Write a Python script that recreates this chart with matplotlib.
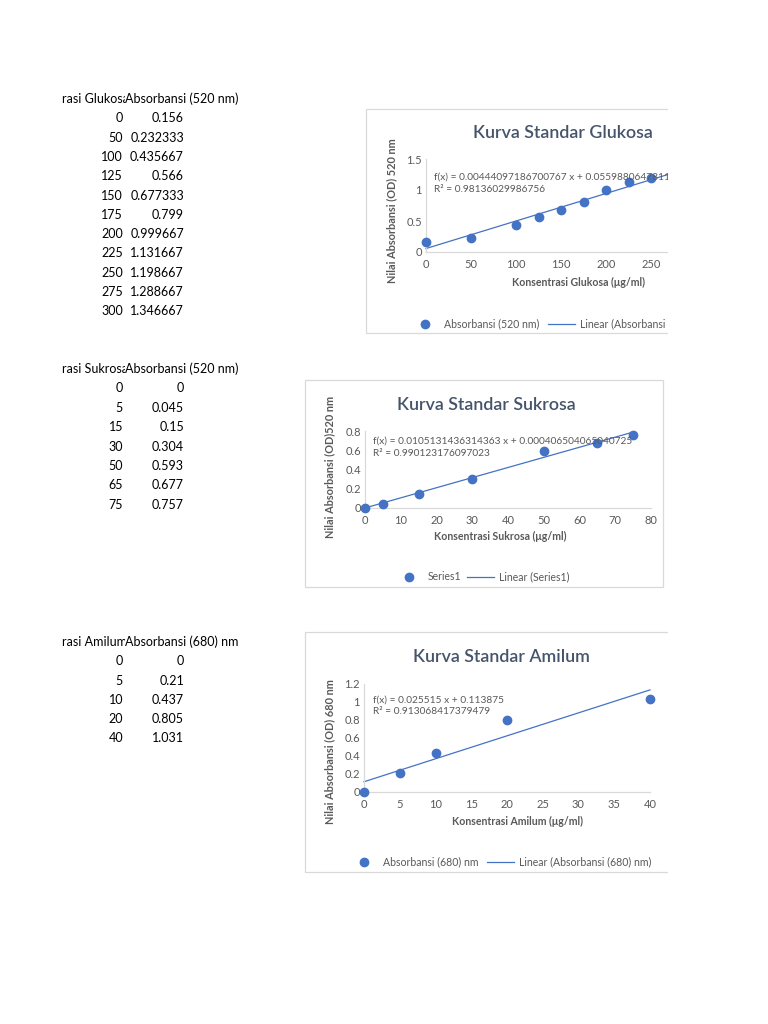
import matplotlib
matplotlib.use('Agg')
import matplotlib.pyplot as plt
from matplotlib.patches import Rectangle
from matplotlib.lines import Line2D
from matplotlib.ticker import FuncFormatter
from matplotlib.transforms import Bbox, TransformedBbox
import numpy as np

# ---------------- data ----------------
glu_conc = [0, 50, 100, 125, 150, 175, 200, 225, 250, 275, 300]
glu_abs = [0.156, 0.232333, 0.435667, 0.566, 0.677333, 0.799, 0.999667,
           1.131667, 1.198667, 1.288667, 1.346667]
glu_slope, glu_icpt = 0.00444097186700767, 0.0559880647811189
glu_eq = "f(x) = 0.00444097186700767 x + 0.0559880647811189"
glu_r2 = "R² = 0.98136029986756"

suk_conc = [0, 5, 15, 30, 50, 65, 75]
suk_abs = [0, 0.045, 0.15, 0.304, 0.593, 0.677, 0.757]
suk_slope, suk_icpt = 0.0105131436314363, 0.000406504065040725
suk_eq = "f(x) = 0.0105131436314363 x + 0.000406504065040725"
suk_r2 = "R² = 0.990123176097023"

ami_conc = [0, 5, 10, 20, 40]
ami_abs = [0, 0.21, 0.437, 0.805, 1.031]
ami_slope, ami_icpt = 0.025515, 0.113875
ami_eq = "f(x) = 0.025515 x + 0.113875"
ami_r2 = "R² = 0.913068417379479"

# ---------------- styling ----------------
W, H = 768, 1024
FONT = 'Lato'
BLUE = '#4472C4'
GRAY = '#595959'
TITLE = '#44546A'
BOX = '#D9D9D9'

plt.rcParams['font.family'] = [FONT, 'DejaVu Sans']

fig = plt.figure(figsize=(W / 100, H / 100), dpi=100)


def fx(px):
    return px / W


def fy(py):
    return 1 - py / H


def ftext(px, py, s, **kw):
    return fig.text(fx(px), fy(py), s, **kw)


# ---------------- tables ----------------
def table(y0, head_a, head_b, col_a, col_b, step=19.4):
    t = ftext(62, y0, head_a, ha='left', va='center', fontsize=9, color='black')
    t.set_clip_box(TransformedBbox(Bbox([[0, 0], [124.5 / W, 1]]), fig.transFigure))
    t.set_clip_on(True)
    ftext(125, y0, head_b, ha='left', va='center', fontsize=9, color='black')
    for i, (a, b) in enumerate(zip(col_a, col_b)):
        y = y0 + (i + 1) * step
        ftext(123, y, str(a), ha='right', va='center', fontsize=9, color='black')
        ftext(184, y, str(b), ha='right', va='center', fontsize=9, color='black')


table(99, "rasi Glukosa", "Absorbansi (520 nm)", glu_conc, glu_abs, 19.3)
table(369, "rasi Sukrosa", "Absorbansi (520 nm)", suk_conc, suk_abs, 19.4)
table(642, "rasi Amilum", "Absorbansi (680) nm", ami_conc, ami_abs, 19.3)


# ---------------- charts ----------------
def chart(box, axpix, xlim, ylim, xticks, yticks, x, y, slope, icpt, xfit,
          title, title_xy, eq, r2, eq_xy, ylab, ylab_xy, xlab, xlab_xy,
          leg_labels, leg_xy, colspace):
    bx0, by0, bx1, by1 = box
    fig.add_artist(Rectangle((fx(bx0), fy(by1)), fx(bx1 - bx0), (by1 - by0) / H,
                             transform=fig.transFigure, facecolor='white',
                             edgecolor=BOX, lw=0.9, zorder=-1))
    l, b, r, t = axpix
    ax = fig.add_axes([fx(l), fy(b), fx(r - l), (b - t) / H])
    ax.set_facecolor('none')
    ax.set_xlim(*xlim)
    ax.set_ylim(*ylim)
    ax.set_xticks(xticks)
    ax.set_yticks(yticks)
    fmt = FuncFormatter(lambda v, p: f"{v:g}")
    ax.xaxis.set_major_formatter(fmt)
    ax.yaxis.set_major_formatter(fmt)
    for s in ['top', 'right']:
        ax.spines[s].set_visible(False)
    for s in ['left', 'bottom']:
        ax.spines[s].set_color(BOX)
        ax.spines[s].set_linewidth(0.9)
    ax.tick_params(length=0, labelsize=8, labelcolor=GRAY)
    ax.tick_params(axis='x', pad=5)
    ax.tick_params(axis='y', pad=3)
    ax.plot(x, y, 'o', color=BLUE, markersize=6, clip_on=False, zorder=3)
    xf = np.array(xfit, dtype=float)
    ax.plot(xf, slope * xf + icpt, '-', color=BLUE, lw=0.9, clip_on=False, zorder=2)
    ftext(title_xy[0], title_xy[1], title, ha='center', va='center', fontsize=12.8,
          color=TITLE, fontweight='semibold')
    ftext(eq_xy[0], eq_xy[1], eq, ha='left', va='center', fontsize=7.3, color=GRAY)
    ftext(eq_xy[0], eq_xy[1] + 12, r2, ha='left', va='center', fontsize=7.3, color=GRAY)
    ftext(ylab_xy[0], ylab_xy[1], ylab, ha='center', va='center', rotation=90,
          fontsize=7.9, color=GRAY, fontweight='bold')
    ftext(xlab_xy[0], xlab_xy[1], xlab, ha='center', va='center',
          fontsize=7.6, color=GRAY, fontweight='bold')
    h1 = Line2D([], [], marker='o', ls='none', color=BLUE, markersize=6)
    h2 = Line2D([], [], ls='-', color=BLUE, lw=0.9)
    fig.legend([h1, h2], leg_labels, loc='center left',
               bbox_to_anchor=(fx(leg_xy[0]), fy(leg_xy[1])), ncol=2, frameon=False,
               fontsize=7.6, labelcolor=GRAY, handlelength=2.6, handletextpad=0.5,
               columnspacing=colspace, borderpad=0, borderaxespad=0)
    return ax


chart(box=(366, 109, 800, 333), axpix=(426, 252, 741, 159),
      xlim=(0, 350), ylim=(0, 1.5), xticks=[0, 50, 100, 150, 200, 250, 300, 350],
      yticks=[0, 0.5, 1, 1.5], x=glu_conc, y=glu_abs, slope=glu_slope, icpt=glu_icpt,
      xfit=[0, 300], title="Kurva Standar Glukosa", title_xy=(563, 133),
      eq=glu_eq, r2=glu_r2, eq_xy=(434, 177),
      ylab="Nilai Absorbansi (OD) 520 nm", ylab_xy=(392, 211),
      xlab="Konsentrasi Glukosa (μg/ml)", xlab_xy=(579, 282),
      leg_labels=["Absorbansi (520 nm)", "Linear (Absorbansi (520 nm))"],
      leg_xy=(411, 324), colspace=0.8)

chart(box=(305, 380, 663, 587), axpix=(365, 508, 651, 431),
      xlim=(0, 80), ylim=(0, 0.8), xticks=list(range(0, 81, 10)),
      yticks=[0, 0.2, 0.4, 0.6, 0.8], x=suk_conc, y=suk_abs, slope=suk_slope,
      icpt=suk_icpt, xfit=[0, 75], title="Kurva Standar Sukrosa", title_xy=(486, 405),
      eq=suk_eq, r2=suk_r2, eq_xy=(373, 441),
      ylab="Nilai Absorbansi (OD)520 nm", ylab_xy=(330, 467),
      xlab="Konsentrasi Sukrosa (μg/ml)", xlab_xy=(500, 536),
      leg_labels=["Series1", "Linear (Series1)"], leg_xy=(395, 577), colspace=0.5)

chart(box=(305, 632, 800, 872), axpix=(364, 792, 650, 684),
      xlim=(0, 40), ylim=(0, 1.2), xticks=list(range(0, 41, 5)),
      yticks=[0, 0.2, 0.4, 0.6, 0.8, 1, 1.2], x=ami_conc, y=ami_abs, slope=ami_slope,
      icpt=ami_icpt, xfit=[0, 40], title="Kurva Standar Amilum", title_xy=(501, 657),
      eq=ami_eq, r2=ami_r2, eq_xy=(373, 700),
      ylab="Nilai Absorbansi (OD) 680 nm", ylab_xy=(330, 752),
      xlab="Konsentrasi Amilum (μg/ml)", xlab_xy=(518, 821),
      leg_labels=["Absorbansi (680) nm", "Linear (Absorbansi (680) nm)"],
      leg_xy=(350, 862), colspace=0.8)

# page edge (the captured area ends here)
fig.add_artist(Rectangle((fx(668), 0), 1 - fx(668), 1, transform=fig.transFigure,
                         facecolor='white', edgecolor='none', zorder=50))

fig.savefig('out.png', dpi=100, facecolor='white')
